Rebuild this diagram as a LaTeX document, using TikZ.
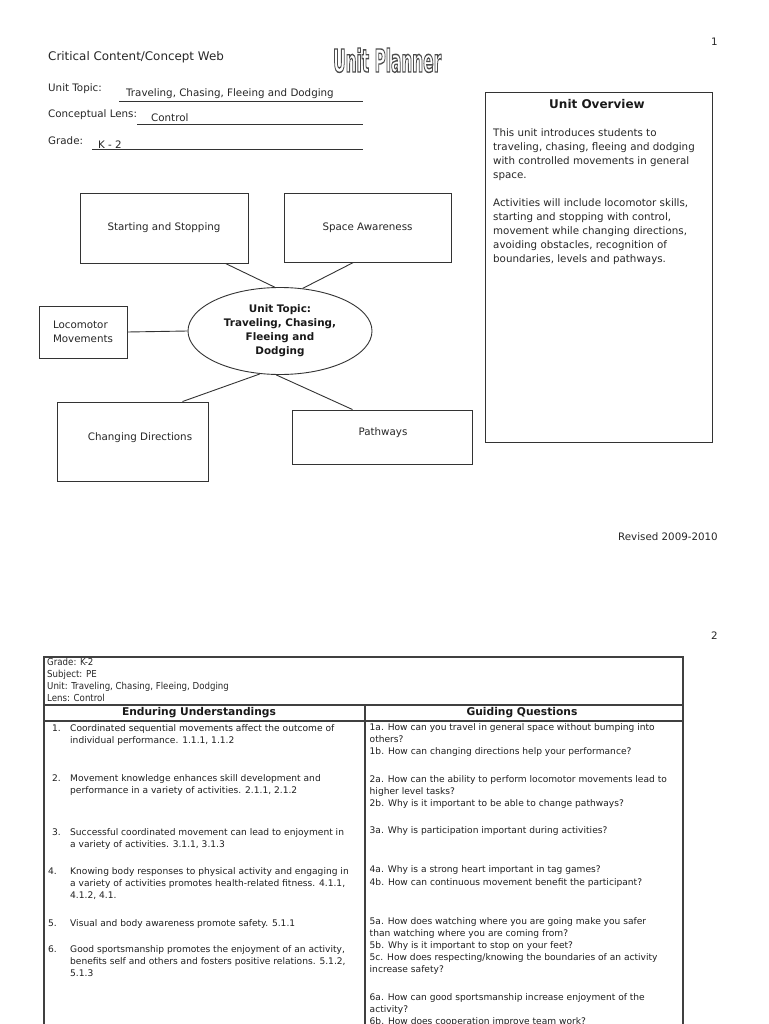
\documentclass[tikz,border=0pt]{standalone}
\usepackage{fontspec}
\setmainfont{DejaVu Sans}
\newfontfamily\cond{DejaVu Sans Condensed}
\usetikzlibrary{shapes.geometric,calc}
\newcommand\outlinetext[1]{\special{pdf:literal direct 1 Tr 0.45 w}#1\special{pdf:literal direct 0 Tr}}
\tikzset{
  ln/.style={line width=0.9pt, draw=black!80},
  top/.style={font=\fontsize{10.3}{14}\selectfont, inner sep=0, anchor=west, text=black!85},
  mtop/.style={font=\fontsize{10.3}{14}\selectfont, inner sep=0, anchor=north west, align=left, text=black!85},
  wbox/.style={ln, rectangle, inner sep=0, font=\fontsize{10.3}{14}\selectfont, text=black!85},
  tsmall/.style={font=\cond\fontsize{9.6}{12}\selectfont, inner sep=0, anchor=north west, align=left, text=black!85},
  thead/.style={font=\bfseries\fontsize{10.7}{13}\selectfont, inner sep=0, text=black!90},
  ttext/.style={font=\fontsize{9.1}{12}\selectfont, inner sep=0, anchor=north west, align=left, text=black!88},
  tbl/.style={line width=1.1pt, draw=black!75}
}
\begin{document}
\begin{tikzpicture}[x=1pt,y=-1pt]
\useasboundingbox (0,0) rectangle (768,1024);
% page 1 header
\node[top] (pg1) at (711,42) {1};
\node[top, font=\fontsize{11.9}{14}\selectfont] (ccw) at (48,57) {Critical Content/Concept Web};
\node[inner sep=0, anchor=base west, text=black!70] (up) at (333,72) {\resizebox{108pt}{24pt}{\cond\bfseries\outlinetext{Unit Planner}}};
\node[top] (ut) at (48,89) {Unit Topic:};
\node[top] (utv) at (126,94) {Traveling, Chasing, Fleeing and Dodging};
\coordinate (ut1) at (119,101); \coordinate (ut2) at (363,101);
\draw[ln] (ut1) -- (ut2);
\node[top] (cl) at (48,115) {Conceptual Lens:};
\node[top] (clv) at (151,118) {Control};
\coordinate (cl1) at (137,124); \coordinate (cl2) at (363,124);
\draw[ln] (cl1) -- (cl2);
\node[top] (gr) at (48,141) {Grade:};
\node[top] (grv) at (98,145) {K - 2};
\coordinate (gr1) at (92,149); \coordinate (gr2) at (363,149);
\draw[ln] (gr1) -- (gr2);
% unit overview
\node[ln, rectangle, minimum width=227pt, minimum height=350pt, inner sep=0] (ov) at (598.5,267) {};
\node[thead, font=\bfseries\fontsize{12}{13}\selectfont] (ovt) at (597,104) {Unit Overview};
\node[mtop] (ovp) at (493,128.5) {This unit introduces students to\\traveling, chasing, fleeing and dodging\\with controlled movements in general\\space.\\[14pt]Activities will include locomotor skills,\\starting and stopping with control,\\movement while changing directions,\\avoiding obstacles, recognition of\\boundaries, levels and pathways.};
% concept web
\node[wbox, minimum width=168pt, minimum height=70pt] (ss) at (164,228) {Starting and Stopping};
\node[wbox, minimum width=167pt, minimum height=69pt] (sa) at (367.5,227.5) {Space Awareness};
\node[wbox, minimum width=88pt, minimum height=52pt, align=left] (lm) at (83,332) {Locomotor\\Movements};
\node[wbox, minimum width=151pt, minimum height=79pt] (cd) at (132.5,441.5) {};
\node[top, anchor=center] (cdt) at (140,438) {Changing Directions};
\node[wbox, minimum width=180pt, minimum height=54pt] (pw) at (382,437) {};
\node[top, anchor=center] (pwt) at (383,433) {Pathways};
\node[ln, ellipse, minimum width=184pt, minimum height=87pt, inner sep=0, align=center,
      font=\bfseries\fontsize{10.4}{14}\selectfont, text=black!90] (tp) at (280,331)
      {Unit Topic:\\Traveling, Chasing,\\Fleeing and\\Dodging};
\draw[ln] ([xshift=-23pt]ss.south east) -- (tp.97);
\draw[ln] ([xshift=-98pt]sa.south east) -- (tp.62);
\draw[ln] (lm.east) -- (tp.west);
\draw[ln] (tp.245) -- ([xshift=-26pt]cd.north east);
\draw[ln] (tp.265) -- ([xshift=61pt]pw.north west);
% footer / page 2
\node[top, anchor=east] (rev) at (718,537) {Revised 2009-2010};
\node[top] (pg2) at (711,636) {2};
% table
\coordinate (tl) at (44,657); \coordinate (tr) at (683,657);
\coordinate (bl) at (44,1030); \coordinate (br) at (683,1030);
\coordinate (h1l) at (44,705); \coordinate (h1r) at (683,705);
\coordinate (h2l) at (44,721); \coordinate (h2r) at (683,721);
\coordinate (vt) at (365,705); \coordinate (vb) at (365,1030);
\draw[tbl] (bl) -- (tl) -- (tr) -- (br);
\draw[tbl] (h1l) -- (h1r);
\draw[tbl] (h2l) -- (h2r);
\draw[tbl] (vt) -- (vb);
\node[tsmall] (info) at (47,657.5) {Grade: K-2\\Subject: PE\\Unit: Traveling, Chasing, Fleeing, Dodging\\Lens: Control};
\node[thead] (eu) at (199,712.5) {Enduring Understandings};
\node[thead] (gq) at (522,712.5) {Guiding Questions};
% enduring understandings
\node[ttext] (n1) at (52,724.5) {1.};
\node[ttext] (e1) at (70,724.5) {Coordinated sequential movements affect the outcome of\\individual performance. 1.1.1, 1.1.2};
\node[ttext] (n2) at (52,774.5) {2.};
\node[ttext] (e2) at (70,774.5) {Movement knowledge enhances skill development and\\performance in a variety of activities. 2.1.1, 2.1.2};
\node[ttext] (n3) at (52,828.5) {3.};
\node[ttext] (e3) at (70,828.5) {Successful coordinated movement can lead to enjoyment in\\a variety of activities. 3.1.1, 3.1.3};
\node[ttext] (n4) at (48,867.5) {4.};
\node[ttext] (e4) at (70,867.5) {Knowing body responses to physical activity and engaging in\\a variety of activities promotes health-related fitness. 4.1.1,\\4.1.2, 4.1.};
\node[ttext] (n5) at (48,919.5) {5.};
\node[ttext] (e5) at (70,919.5) {Visual and body awareness promote safety. 5.1.1};
\node[ttext] (n6) at (48,945.5) {6.};
\node[ttext] (e6) at (70,945.5) {Good sportsmanship promotes the enjoyment of an activity,\\benefits self and others and fosters positive relations. 5.1.2,\\5.1.3};
% guiding questions
\node[ttext] (g1) at (369.5,723.5) {1a. How can you travel in general space without bumping into\\others?\\1b. How can changing directions help your performance?};
\node[ttext] (g2) at (369.5,775.5) {2a. How can the ability to perform locomotor movements lead to\\higher level tasks?\\2b. Why is it important to be able to change pathways?};
\node[ttext] (g3) at (369.5,826.5) {3a. Why is participation important during activities?};
\node[ttext, font=\fontsize{9.1}{13}\selectfont] (g4) at (369.5,865.5) {4a. Why is a strong heart important in tag games?\\4b. How can continuous movement benefit the participant?};
\node[ttext] (g5) at (369.5,917.5) {5a. How does watching where you are going make you safer\\than watching where you are coming from?\\5b. Why is it important to stop on your feet?\\5c. How does respecting/knowing the boundaries of an activity\\increase safety?};
\node[ttext] (g6) at (369.5,993.5) {6a. How can good sportsmanship increase enjoyment of the\\activity?\\6b. How does cooperation improve team work?};
\end{tikzpicture}
\end{document}
